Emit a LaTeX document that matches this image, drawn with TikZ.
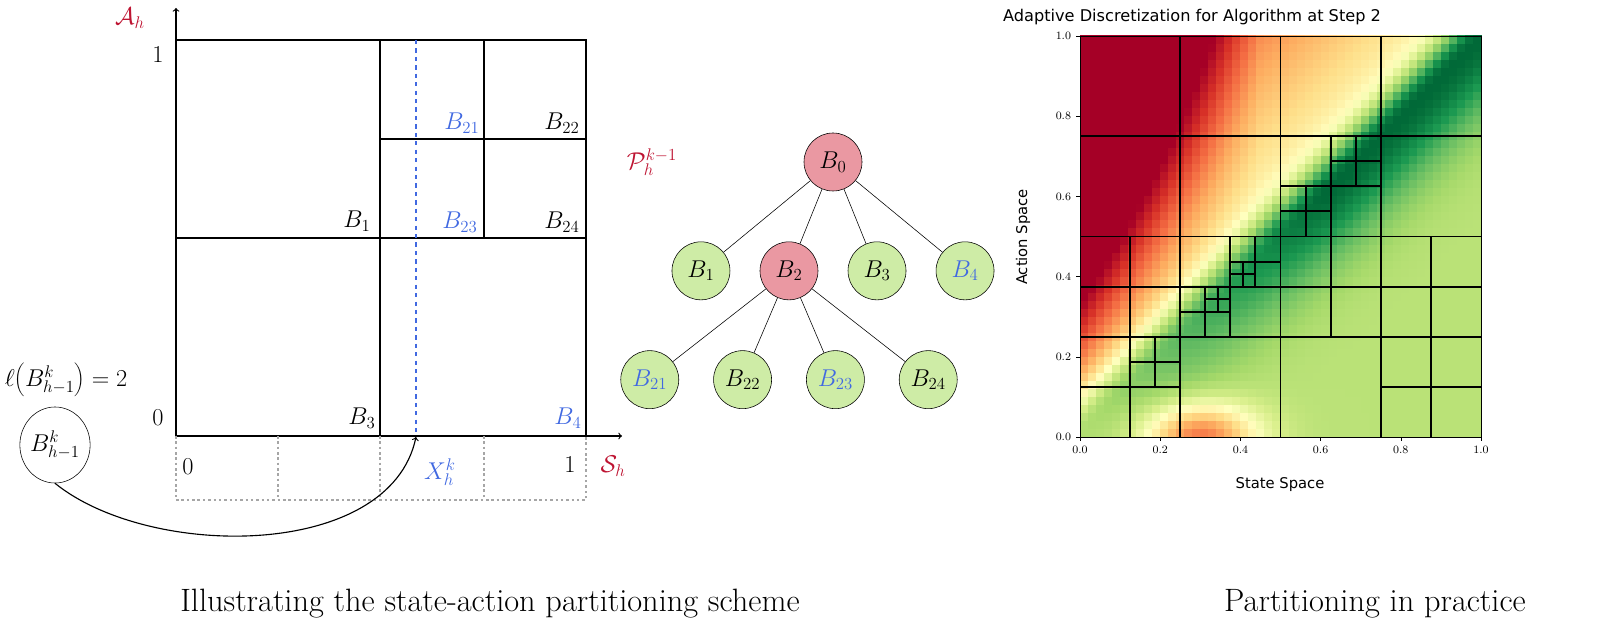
\documentclass[tikz,border=0pt]{standalone}
\usepackage{fontspec}
\newfontfamily\dejavu{DejaVu Sans}
\usetikzlibrary{positioning,shapes.geometric}
\definecolor{axred}{RGB}{190,20,50}
\definecolor{cellblue}{RGB}{65,105,225}
\definecolor{nodered}{RGB}{234,152,162}
\definecolor{nodegreen}{RGB}{206,236,166}
\definecolor{hm0}{HTML}{A50026}
\definecolor{hm1}{HTML}{D73027}
\definecolor{hm2}{HTML}{F46D43}
\definecolor{hm3}{HTML}{FDAE61}
\definecolor{hm4}{HTML}{FEE08B}
\definecolor{hm5}{HTML}{FFFFBF}
\definecolor{hm6}{HTML}{D9EF8B}
\definecolor{hm7}{HTML}{A6D96A}
\definecolor{hm8}{HTML}{66BD63}
\definecolor{hm9}{HTML}{1A9850}
\definecolor{hm10}{HTML}{006837}
% split a heatmap cell (s0,a0,size) into four
\newcommand{\qsplit}[3]{%
  \draw[hmline] ({1080+401*(#1+#3/2)},{437-401*#2}) -- ({1080+401*(#1+#3/2)},{437-401*(#2+#3)});
  \draw[hmline] ({1080+401*#1},{437-401*(#2+#3/2)}) -- ({1080+401*(#1+#3)},{437-401*(#2+#3/2)});}
\begin{document}
\begin{tikzpicture}[x=0.025cm,y=-0.025cm,
    font=\fontsize{17}{20}\selectfont,
    box/.style={draw,line width=0.8pt},
    cut/.style={draw,cellblue,dashed,line width=0.8pt},
    grid/.style={draw,gray!70,dotted,line width=1.8pt},
    tnode/.style={draw,circle,minimum size=1.45cm,inner sep=0pt,fill=nodegreen},
    hot/.style={fill=nodered},
    hmline/.style={line width=1.4pt},
    tick/.style={font=\dejavu\fontsize{8.5}{9}\selectfont},
    level 1/.style={level distance=2.72cm,sibling distance=2.2cm},
    level 2/.style={level distance=2.72cm,sibling distance=2.32cm}]
  % state-action square
  \coordinate (o) at (176,436);
  \draw[->,line width=0.8pt] (o) -- (176,8);
  \draw[->,line width=0.8pt] (o) -- (622,436);
  \draw[box] (176,40) rectangle (586,436);
  \draw[box] (380,40) -- (380,436);
  \draw[box] (176,238) -- (586,238);
  \draw[box] (484,40) -- (484,238);
  \draw[box] (380,139) -- (586,139);
  \draw[cut] (416,40) -- (416,436);
  \draw[grid] (176,436) -- (176,500) -- (586,500) -- (586,436);
  \foreach \x in {278,380,484} \draw[grid] (\x,436) -- (\x,500);
  \node[text=axred] (ah) at (130,18) {$\mathcal{A}_h$};
  \node[text=axred] (sh) at (613,466) {$\mathcal{S}_h$};
  \node (y1) at (158,55) {$1$};
  \node (y0) at (158,418) {$0$};
  \node (x0) at (188,467) {$0$};
  \node (x1) at (570,465) {$1$};
  \node[text=cellblue] (b21) at (462,123) {$B_{21}$};
  \node (b22) at (562,123) {$B_{22}$};
  \node (b1) at (357,221) {$B_1$};
  \node[text=cellblue] (b23) at (460,222) {$B_{23}$};
  \node (b24) at (562,222) {$B_{24}$};
  \node (b3) at (362,418) {$B_3$};
  \node[text=cellblue] (b4) at (568,418) {$B_4$};
  \node[text=cellblue] (xk) at (440,472) {$X_h^k$};
  \coordinate (xp) at (416,437);
  \node (lvl) at (66,380) {$\ell\bigg(B_{h-1}^k\bigg)=2$};
  \node[draw,ellipse,minimum width=1.58cm,minimum height=1.9cm,inner sep=0pt] (bk) at (55,445) {$B_{h-1}^k$};
  \draw[->,line width=0.8pt] (bk.south) .. controls (150,560) and (390,560) .. (xp);
  % partition tree
  \node[text=axred] (pk) at (652,162) {$\mathcal{P}_h^{k-1}$};
  \node[tnode,hot] (t0) at (833,162) {$B_0$}
    child {node[tnode] (t1) {$B_1$}}
    child {node[tnode,hot] (t2) {$B_2$}
      child {node[tnode] (t21) {\textcolor{cellblue}{$B_{21}$}}}
      child {node[tnode] (t22) {$B_{22}$}}
      child {node[tnode] (t23) {\textcolor{cellblue}{$B_{23}$}}}
      child {node[tnode] (t24) {$B_{24}$}}
    }
    child {node[tnode] (t3) {$B_3$}}
    child {node[tnode] (t4) {\textcolor{cellblue}{$B_4$}}};
  % heatmap
  \foreach \i in {0,...,49} {
    \foreach \j in {0,...,49} {
      \pgfmathsetmacro\s{(\i+0.5)/50}
      \pgfmathsetmacro\a{(\j+0.5)/50}
      \pgfmathsetmacro\d{\a-\s}
      \pgfmathsetmacro\base{\d>0 ? max(0,0.55-\d*(0.55+2.5*max(0,0.45-\s))) : 0.66}
      \pgfmathsetmacro\w{\d>0 ? 0.09 : 0.2}
      \pgfmathsetmacro\g{exp(max(-20,-(\d/\w)^2))}
      \pgfmathsetmacro\tg{0.68+0.32*min(1,(\s+\a)/1.2)}
      \pgfmathsetmacro\v{\base+(\tg-\base)*\g-0.45*exp(max(-20,-((\s-0.3)^2/0.02+\a^2/0.007)))}
      \pgfmathsetmacro\t{10*max(0,min(0.999,\v))}
      \pgfmathtruncatemacro\k{floor(\t)}
      \pgfmathtruncatemacro\kk{\k+1}
      \pgfmathtruncatemacro\f{100*(\t-\k)}
      \colorlet{cc}{hm\kk!\f!hm\k}
      \fill[cc] ({1080+\i*8.02},{437-\j*8.02}) rectangle ({1080+(\i+1)*8.02+0.6},{437-(\j+1)*8.02-0.6});
    }
  }
  \foreach \q in {0.25,0.5,0.75} {
    \draw[hmline] ({1080+401*\q},36) -- ({1080+401*\q},437);
    \draw[hmline] (1080,{437-401*\q}) -- (1481,{437-401*\q});
  }
  \qsplit{0}{0}{0.25}
  \qsplit{0.125}{0.125}{0.125}
  \qsplit{0}{0.25}{0.25}
  \qsplit{0.25}{0.25}{0.25}
  \qsplit{0.25}{0.25}{0.125}
  \qsplit{0.3125}{0.3125}{0.0625}
  \qsplit{0.375}{0.375}{0.125}
  \qsplit{0.375}{0.375}{0.0625}
  \qsplit{0.5}{0.25}{0.25}
  \qsplit{0.75}{0.25}{0.25}
  \qsplit{0.75}{0}{0.25}
  \qsplit{0.5}{0.5}{0.25}
  \qsplit{0.5}{0.5}{0.125}
  \qsplit{0.625}{0.625}{0.125}
  \draw[line width=0.6pt] (1080,36) rectangle (1481,437);
  \foreach \q in {0,0.2,0.4,0.6,0.8,1} {
    \draw ({1080+401*\q},437) -- ({1080+401*\q},441);
    \draw (1080,{437-401*\q}) -- (1076,{437-401*\q});
    \node[tick,below] at ({1080+401*\q},441) {\pgfmathprintnumber[fixed,precision=1,fixed zerofill]{\q}};
    \node[tick,left] at (1076,{437-401*\q}) {\pgfmathprintnumber[fixed,precision=1,fixed zerofill]{\q}};
  }
  \node[font=\dejavu\fontsize{11.5}{13}\selectfont] (title) at (1192,17) {Adaptive Discretization for Algorithm at Step 2};
  \node[font=\dejavu\fontsize{10.5}{12}\selectfont] (xl) at (1280,485) {State Space};
  \node[font=\dejavu\fontsize{10.5}{12}\selectfont,rotate=90] (yl) at (1023,237) {Action Space};
  % captions
  \node[font=\fontsize{23}{26}\selectfont] (cap1) at (490,604) {Illustrating the state-action partitioning scheme};
  \node[font=\fontsize{23}{26}\selectfont] (cap2) at (1375,604) {Partitioning in practice};
  \pgfresetboundingbox
  \path[use as bounding box] (0,0) rectangle (1612,642);
\end{tikzpicture}
\end{document}
